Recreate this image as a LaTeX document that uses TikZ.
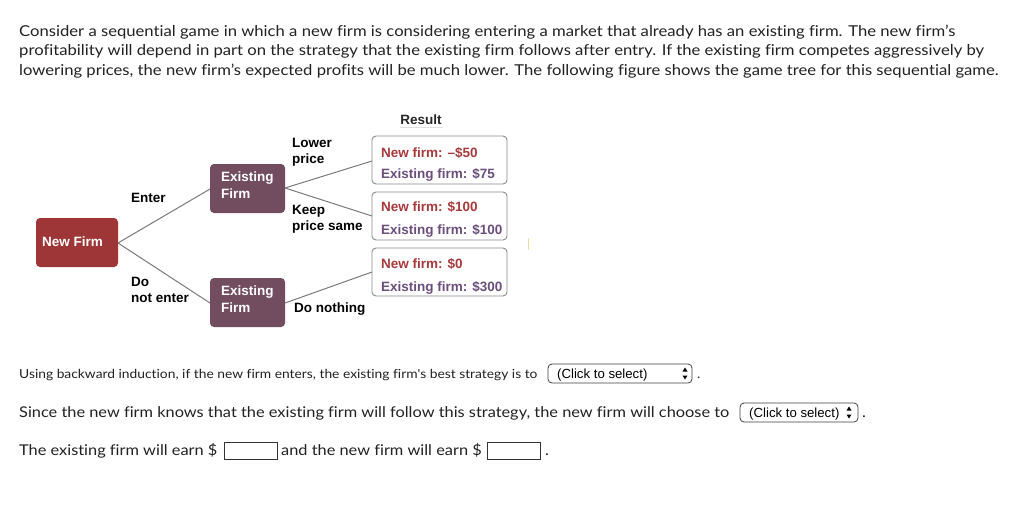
\documentclass[tikz,border=0pt]{standalone}
\usepackage{fontspec}
\setmainfont{Lato}[FakeStretch=1.11, Ligatures={NoCommon}]
\newfontfamily\qfont{Lato}[FakeStretch=1.105, Ligatures={NoCommon}]
\newfontfamily\arialb{Liberation Sans}
\newfontfamily\ui{Liberation Sans}
\definecolor{newfirm}{HTML}{9E3537}
\definecolor{exfirm}{HTML}{724C5F}
\definecolor{redtxt}{HTML}{A8393B}
\definecolor{purtxt}{HTML}{6C4E7C}
\definecolor{edgec}{HTML}{7A7A7A}
\definecolor{boxc}{HTML}{8A8A8A}
\definecolor{bodytxt}{HTML}{222222}
\definecolor{stray}{HTML}{F6D9A8}
\tikzset{
  body/.style={anchor=base west, inner sep=0pt, text=bodytxt, font=\fontsize{15}{18}\selectfont},
  qtxt/.style={anchor=base west, inner sep=0pt, text=bodytxt, font=\qfont\fontsize{14.8}{18}\selectfont},
  small/.style={anchor=base west, inner sep=0pt, text=bodytxt, font=\qfont\fontsize{12.5}{15}\selectfont},
  lbl/.style={anchor=north west, inner sep=0pt, align=left, text=black, font=\arialb\bfseries\fontsize{13.5}{16.5}\selectfont},
  player/.style={draw=none, rounded corners=4pt},
  result/.style={draw=boxc, line width=0.9pt, rounded corners=4pt},
  rtxt/.style={anchor=base west, inner sep=0pt, font=\arialb\bfseries\fontsize{13.5}{16}\selectfont},
  edge/.style={draw=edgec, line width=1pt},
  dropbox/.style={draw=black!75, line width=0.8pt, rounded corners=4pt},
  droptxt/.style={anchor=base west, inner sep=0pt, font=\ui\fontsize{13.2}{15}\selectfont},
  inbox/.style={draw=black!80, line width=0.8pt},
}
\begin{document}
\begin{tikzpicture}[x=1pt,y=-1pt]
\useasboundingbox[fill=white] (0,0) rectangle (1024,517);
% intro text
\node[body] (t1) at (19,36) {Consider a sequential game in which a new firm is considering entering a market that already has an existing firm. The new firm's};
\node[body] (t2) at (19,55.5) {profitability will depend in part on the strategy that the existing firm follows after entry. If the existing firm competes aggressively by};
\node[body] (t3) at (19,75) {lowering prices, the new firm's expected profits will be much lower. The following figure shows the game tree for this sequential game.};

% tree nodes
\path[player, fill=newfirm] (36,218) rectangle (118,267);
\node[anchor=west, inner sep=0pt, text=white, font=\arialb\bfseries\fontsize{13.5}{16}\selectfont] (nf) at (42,242) {New Firm};
\coordinate (nfR) at (118,243);
\path[player, fill=exfirm] (210,164) rectangle (285,213);
\node[lbl, text=white] (ef1) at (221,172) {Existing\\Firm};
\path[player, fill=exfirm] (210,278) rectangle (285,327);
\node[lbl, text=white] (ef2) at (221,286) {Existing\\Firm};
\coordinate (ef1L) at (210,189);
\coordinate (ef1R) at (285,188);
\coordinate (ef2L) at (210,303);
\coordinate (ef2R) at (285,303);

% result boxes
\draw[result] (372,136) rectangle (507,184);
\draw[result] (372,192) rectangle (507,240);
\draw[result] (372,248) rectangle (507,296);
\coordinate (r1L) at (372,161);
\coordinate (r2L) at (372,216);
\coordinate (r3L) at (372,272);
\node[rtxt, text=redtxt] (r1a) at (381,157) {New firm: –\$50};
\node[rtxt, text=purtxt] (r1b) at (381,178) {Existing firm: \$75};
\node[rtxt, text=redtxt] (r2a) at (381,211) {New firm: \$100};
\node[rtxt, text=purtxt] (r2b) at (381,234) {Existing firm: \$100};
\node[rtxt, text=redtxt] (r3a) at (381,268) {New firm: \$0};
\node[rtxt, text=purtxt] (r3b) at (381,291) {Existing firm: \$300};
\node[anchor=base, inner sep=0pt, font=\arialb\bfseries\fontsize{13.5}{16}\selectfont, text=black!85] (res) at (421,124) {Result};
\draw[black!12, line width=0.8pt] (400,127) -- (443,127);
\draw[stray, line width=1pt] (528,238) -- (528,250);

% edges
\draw[edge] (nfR) -- (ef1L);
\draw[edge] (nfR) -- (ef2L);
\draw[edge] (ef1R) -- (r1L);
\draw[edge] (ef1R) -- (r2L);
\draw[edge] (ef2R) -- (r3L);

% edge labels
\node[lbl] (enter) at (131,193) {Enter};
\node[lbl] (dne) at (131,277) {Do\\not enter};
\node[lbl] (lp) at (292,138) {Lower\\price};
\node[lbl] (kp) at (292,205) {Keep\\price same};
\node[lbl] (dn) at (294,303) {Do nothing};

% questions
\node[small] (q1) at (19,378) {Using backward induction, if the new firm enters, the existing firm's best strategy is to};
\draw[dropbox] (548,364) rectangle (692,383);
\node[droptxt] (d1) at (557,378) {(Click to select)};
\fill[black] (682.5,371.5) -- (687.5,371.5) -- (685,367.5) -- cycle;
\fill[black] (682.5,375.5) -- (687.5,375.5) -- (685,379.5) -- cycle;
\node[small] (p1) at (697,378) {.};

\node[qtxt] (q2) at (19,417) {Since the new firm knows that the existing firm will follow this strategy, the new firm will choose to};
\draw[dropbox] (740,403) rectangle (858,422);
\node[droptxt] (d2) at (749,417) {(Click to select)};
\fill[black] (846.5,410.5) -- (851.5,410.5) -- (849,406.5) -- cycle;
\fill[black] (846.5,414.5) -- (851.5,414.5) -- (849,418.5) -- cycle;
\node[qtxt] (p2) at (862,417) {.};

\node[qtxt] (q3) at (19,455) {The existing firm will earn \$};
\draw[inbox] (224,442) rectangle (277,459);
\node[qtxt] (q3b) at (281,455) {and the new firm will earn \$};
\draw[inbox] (487,442) rectangle (540,459);
\node[qtxt] (p3) at (545,455) {.};
\end{tikzpicture}
\end{document}
